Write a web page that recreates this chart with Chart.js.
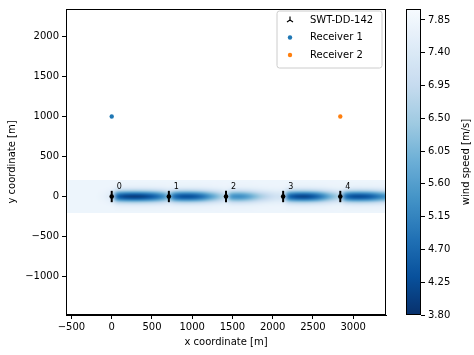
<!DOCTYPE html>
<html>
<head>
<meta charset="utf-8">
<script src="https://cdn.jsdelivr.net/npm/chart.js@4/dist/chart.umd.min.js"></script>
<style>
  html, body { margin: 0; padding: 0; background: #ffffff; }
  #wrap { position: relative; width: 474px; height: 355px; }
  #main { position: absolute; left: 0; top: 0; }
  #cbar { position: absolute; left: 400px; top: 0; }
</style>
</head>
<body>
<div id="wrap">
  <canvas id="main" width="400" height="355"></canvas>
  <canvas id="cbar" width="74" height="355"></canvas>
</div>
<script>
// ---------------- data ----------------
const xTicks = [-500, 0, 500, 1000, 1500, 2000, 2500, 3000];
const yTicks = [-1000, -500, 0, 500, 1000, 1500, 2000];
const cbTicks = [3.80, 4.25, 4.70, 5.15, 5.60, 6.05, 6.50, 6.95, 7.40, 7.85];

const turbineNames = ['0', '1', '2', '3', '4'];
const turbineX = [0, 710, 1420, 2130, 2840];
const turbineY = [0, 0, 0, 0, 0];
const rotorDiameter = 142;

const receiver1 = [{ x: 0, y: 1000 }];
const receiver2 = [{ x: 2840, y: 1000 }];

// flow map grid (x along the row, y across the wake)
const gridX = [-568,-497,-426,-355,-284,-213,-142,-71,0,71,142,213,284,355,426,497,568,639,
  710,781,852,923,994,1065,1136,1207,1278,1349,1420,1491,1562,1633,1704,1775,1846,1917,1988,2059,
  2130,2201,2272,2343,2414,2485,2556,2627,2698,2769,2840,2911,2982,3053,3124,3195,3266,3337,3408];
const gridY = [200,175,150,125,100,75,50,25,0,-25,-50,-75,-100,-125,-150,-175,-200];

// wind speed along the wake centre line [m/s]
const centerSpeed = [7.80,7.80,7.80,7.80,7.80,7.80,7.75,7.65,
  7.20,
  4.70,4.20,4.05,4.00,4.05,4.20,4.45,4.80,5.30,
  6.00,
  4.80,4.40,4.30,4.35,4.55,4.90,5.40,5.90,6.40,
  6.80,
  5.50,5.30,5.40,5.70,6.10,6.50,6.80,7.05,7.20,
  7.00,
  4.80,4.30,4.15,4.15,4.35,4.70,5.20,5.80,6.30,
  6.60,
  4.80,4.35,4.25,4.30,4.45,4.75,5.10,5.40];
const ambientSpeed = 7.80;
// share of the centre-line deficit seen at each gridY row
const lateralShare = [0,0.01,0.02,0.05,0.14,0.32,0.61,0.88,1,0.88,0.61,0.32,0.14,0.05,0.02,0.01,0];

const vMin = 3.8, vMax = 8.0;

// ---------------- styling ----------------
const FONT = 'DejaVu Sans';
const bluesStops = [
  [0.0, [247,251,255]], [0.125, [222,235,247]], [0.25, [198,219,239]],
  [0.375, [158,202,225]], [0.5, [107,174,214]], [0.625, [66,146,198]],
  [0.75, [33,113,181]], [0.875, [8,81,156]], [1.0, [8,48,107]]
];
function bluesR(v) {
  let t = (vMax - v) / (vMax - vMin);
  t = Math.max(0, Math.min(1, t));
  for (let k = 1; k < bluesStops.length; k++) {
    const [t1, c1] = bluesStops[k];
    const [t0, c0] = bluesStops[k - 1];
    if (t <= t1) {
      const f = (t - t0) / (t1 - t0);
      return [0, 1, 2].map(n => Math.round(c0[n] + (c1[n] - c0[n]) * f));
    }
  }
  return bluesStops[bluesStops.length - 1][1];
}
const fmtMinus = v => String(v).replace('-', '\u2212');

// ---------------- plugins ----------------
const flowMap = {
  id: 'flowMap',
  beforeDatasetsDraw(chart) {
    const { ctx, chartArea, scales } = chart;
    const off = document.createElement('canvas');
    off.width = gridX.length; off.height = gridY.length;
    const octx = off.getContext('2d');
    const img = octx.createImageData(off.width, off.height);
    for (let j = 0; j < gridY.length; j++) {
      for (let i = 0; i < gridX.length; i++) {
        const v = ambientSpeed - (ambientSpeed - centerSpeed[i]) * lateralShare[j];
        const c = bluesR(v);
        const p = (j * gridX.length + i) * 4;
        img.data[p] = c[0]; img.data[p + 1] = c[1]; img.data[p + 2] = c[2]; img.data[p + 3] = 255;
      }
    }
    octx.putImageData(img, 0, 0);
    const dx = gridX[1] - gridX[0];
    const dy = gridY[0] - gridY[1];
    const x0 = scales.x.getPixelForValue(gridX[0] - dx / 2);
    const x1 = scales.x.getPixelForValue(gridX[gridX.length - 1] + dx / 2);
    const y0 = scales.y.getPixelForValue(gridY[0] + dy / 2);
    const y1 = scales.y.getPixelForValue(gridY[gridY.length - 1] - dy / 2);
    ctx.save();
    ctx.beginPath();
    ctx.rect(chartArea.left, chartArea.top, chartArea.right - chartArea.left, chartArea.bottom - chartArea.top);
    ctx.clip();
    ctx.imageSmoothingEnabled = true;
    ctx.imageSmoothingQuality = 'high';
    ctx.drawImage(off, x0, y0, x1 - x0, y1 - y0);
    // rotors and turbine labels
    ctx.strokeStyle = '#000';
    ctx.lineWidth = 2;
    ctx.fillStyle = '#000';
    ctx.font = '8px "' + FONT + '"';
    ctx.textAlign = 'left';
    ctx.textBaseline = 'middle';
    for (let k = 0; k < turbineX.length; k++) {
      const px = scales.x.getPixelForValue(turbineX[k]);
      const pa = scales.y.getPixelForValue(turbineY[k] + rotorDiameter / 2);
      const pb = scales.y.getPixelForValue(turbineY[k] - rotorDiameter / 2);
      ctx.beginPath(); ctx.moveTo(px, pa); ctx.lineTo(px, pb); ctx.stroke();
      const py = scales.y.getPixelForValue(turbineY[k]);
      ctx.fillText(turbineNames[k], px + 5, py - 9.5);
    }
    ctx.restore();
  },
  afterDraw(chart) {
    const { ctx, chartArea } = chart;
    ctx.save();
    ctx.strokeStyle = '#000';
    ctx.lineWidth = 1;
    ctx.strokeRect(Math.round(chartArea.left) + 0.5, Math.round(chartArea.top) + 0.5,
      Math.round(chartArea.right - chartArea.left) - 1, Math.round(chartArea.bottom - chartArea.top) - 1);
    // legend
    const bx = 277, by = 11, bw = 105, bh = 57, r = 2.5;
    ctx.fillStyle = 'rgba(255,255,255,0.8)';
    ctx.strokeStyle = '#cccccc';
    ctx.beginPath();
    ctx.moveTo(bx + r, by);
    ctx.arcTo(bx + bw, by, bx + bw, by + bh, r);
    ctx.arcTo(bx + bw, by + bh, bx, by + bh, r);
    ctx.arcTo(bx, by + bh, bx, by, r);
    ctx.arcTo(bx, by, bx + bw, by, r);
    ctx.closePath();
    ctx.fill(); ctx.stroke();
    const rows = [20, 37.5, 55];
    ctx.font = '10px "' + FONT + '"';
    ctx.textAlign = 'left';
    ctx.textBaseline = 'middle';
    chart.data.datasets.forEach((ds, k) => {
      const mx = 290, my = rows[k];
      if (k === 0) {
        ctx.strokeStyle = '#000'; ctx.lineWidth = 1.2;
        ctx.beginPath();
        ctx.moveTo(mx, my); ctx.lineTo(mx, my - 3.5);
        ctx.moveTo(mx, my); ctx.lineTo(mx - 3, my + 2);
        ctx.moveTo(mx, my); ctx.lineTo(mx + 3, my + 2);
        ctx.stroke();
      } else {
        ctx.fillStyle = ds.backgroundColor;
        ctx.beginPath(); ctx.arc(mx, my, 2.2, 0, Math.PI * 2); ctx.fill();
      }
      ctx.fillStyle = '#000';
      ctx.fillText(ds.label, 310, my);
    });
    ctx.restore();
  }
};

const tickFont = { family: FONT, size: 10 };

new Chart(document.getElementById('main'), {
  type: 'scatter',
  data: {
    datasets: [
      { label: 'SWT-DD-142', data: turbineX.map((x, k) => ({ x, y: turbineY[k] })),
        backgroundColor: '#000', borderColor: '#000', pointRadius: 2.3, borderWidth: 0 },
      { label: 'Receiver 1', data: receiver1, backgroundColor: '#1f77b4', borderColor: '#1f77b4',
        pointRadius: 2.2, borderWidth: 0 },
      { label: 'Receiver 2', data: receiver2, backgroundColor: '#ff7f0e', borderColor: '#ff7f0e',
        pointRadius: 2.2, borderWidth: 0 }
    ]
  },
  options: {
    responsive: false, animation: false, devicePixelRatio: 1,
    layout: { padding: { top: 8, right: 14, left: 0, bottom: 0 } },
    plugins: { legend: { display: false }, tooltip: { enabled: false } },
    scales: {
      x: {
        type: 'linear', min: -568, max: 3408,
        afterBuildTicks: s => { s.ticks = xTicks.map(v => ({ value: v })); },
        afterFit: s => { s.height = 40; },
        grid: { drawOnChartArea: false, tickLength: 4, color: '#000', tickWidth: 1 },
        border: { color: '#000', width: 1 },
        ticks: { color: '#000', font: tickFont, maxRotation: 0, padding: 2, callback: v => fmtMinus(v) },
        title: { display: true, text: 'x coordinate [m]', color: '#000', font: tickFont, padding: { top: 0, bottom: 7 } }
      },
      y: {
        type: 'linear', min: -1482, max: 2345,
        afterBuildTicks: s => { s.ticks = yTicks.map(v => ({ value: v })); },
        afterFit: s => { s.width = 66; },
        grid: { drawOnChartArea: false, tickLength: 4, color: '#000', tickWidth: 1 },
        border: { color: '#000', width: 1 },
        ticks: { color: '#000', font: tickFont, padding: 3, callback: v => fmtMinus(v) },
        title: { display: true, text: 'y coordinate [m]', color: '#000', font: tickFont, padding: { top: 6, bottom: 0 } }
      }
    }
  },
  plugins: [flowMap]
});

// ---------------- colorbar ----------------
const cbarPlugin = {
  id: 'cbarPlugin',
  beforeDatasetsDraw(chart) {
    const { ctx, chartArea, scales } = chart;
    const yTop = scales.y.getPixelForValue(vMax);
    const yBot = scales.y.getPixelForValue(vMin);
    const g = ctx.createLinearGradient(0, yBot, 0, yTop);
    for (let k = 0; k <= 40; k++) {
      const v = vMin + (vMax - vMin) * k / 40;
      const c = bluesR(v);
      g.addColorStop(k / 40, 'rgb(' + c.join(',') + ')');
    }
    ctx.save();
    ctx.fillStyle = g;
    ctx.fillRect(chartArea.left, yTop, chartArea.right - chartArea.left, yBot - yTop);
    ctx.strokeStyle = '#000';
    ctx.lineWidth = 1;
    ctx.strokeRect(Math.round(chartArea.left) + 0.5, Math.round(yTop) + 0.5,
      Math.round(chartArea.right - chartArea.left) - 1, Math.round(yBot - yTop) - 1);
    ctx.translate(66, (yTop + yBot) / 2);
    ctx.rotate(-Math.PI / 2);
    ctx.fillStyle = '#000';
    ctx.font = '10px "' + FONT + '"';
    ctx.textAlign = 'center';
    ctx.textBaseline = 'middle';
    ctx.fillText('wind speed [m/s]', 0, 0);
    ctx.restore();
  }
};

new Chart(document.getElementById('cbar'), {
  type: 'scatter',
  data: { datasets: [{ label: 'wind speed', data: [] }] },
  options: {
    responsive: false, animation: false, devicePixelRatio: 1,
    layout: { padding: { top: 8, left: 6, right: 0, bottom: 40 } },
    plugins: { legend: { display: false }, tooltip: { enabled: false } },
    scales: {
      x: { display: false, min: 0, max: 1 },
      y: {
        position: 'right', type: 'linear', min: vMin, max: vMax,
        afterBuildTicks: s => { s.ticks = cbTicks.map(v => ({ value: v })); },
        afterFit: s => { s.width = 53; },
        grid: { drawOnChartArea: false, tickLength: 4, color: '#000', tickWidth: 1 },
        border: { display: false },
        ticks: { color: '#000', font: tickFont, padding: 3, callback: v => Number(v).toFixed(2) }
      }
    }
  },
  plugins: [cbarPlugin]
});
</script>
</body>
</html>
